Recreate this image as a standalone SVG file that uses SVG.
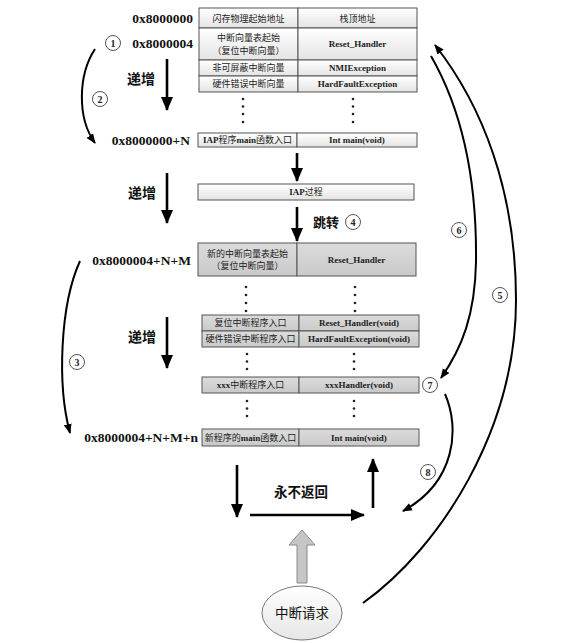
<svg xmlns="http://www.w3.org/2000/svg" width="573" height="643" viewBox="0 0 573 643">
<defs>
<linearGradient id="gLight" x1="0" y1="0" x2="0" y2="1"><stop offset="0" stop-color="#ffffff"/><stop offset="1" stop-color="#e4e4e4"/></linearGradient>
<linearGradient id="gGray" x1="0" y1="0" x2="0" y2="1"><stop offset="0" stop-color="#dcdcdc"/><stop offset="1" stop-color="#c9c9c9"/></linearGradient>
<linearGradient id="gEll" x1="0" y1="0" x2="0" y2="1"><stop offset="0" stop-color="#ffffff"/><stop offset="1" stop-color="#e6e6e6"/></linearGradient>
<marker id="ah" markerUnits="userSpaceOnUse" markerWidth="14" markerHeight="14" viewBox="0 0 14 12" refX="13" refY="6" orient="auto"><path d="M0,0 L14,6 L0,12 Z" fill="#000"/></marker>
<marker id="ahs" markerUnits="userSpaceOnUse" markerWidth="10" markerHeight="10" viewBox="0 0 10 8" refX="9" refY="4" orient="auto"><path d="M0,0 L10,4 L0,8 Z" fill="#000"/></marker>
</defs>
<style>
.cell{stroke:#555;stroke-width:1}
.lt{fill:url(#gLight)}
.gr{fill:url(#gGray)}
.cn{font-family:"Noto Sans CJK SC","Noto Sans",sans-serif;font-size:9px;fill:#222;text-anchor:middle}
.en{font-family:"Liberation Serif",serif;font-weight:bold;font-size:9px;fill:#222;text-anchor:middle}
.addr{font-family:"Liberation Serif",serif;font-weight:bold;font-size:13.5px;fill:#111;text-anchor:end}
.big{font-family:"Noto Sans CJK SC",sans-serif;font-weight:bold;font-size:14px;fill:#111}
.num{fill:#fff;stroke:#555;stroke-width:1}
.nt{font-family:"Liberation Serif",serif;font-weight:bold;font-size:10px;fill:#222;text-anchor:middle}
.dot{fill:#222}
.thick{stroke:#000;stroke-width:2.6;fill:none;marker-end:url(#ah)}
.curve{stroke:#000;stroke-width:2;fill:none;marker-end:url(#ahs)}
</style>
<rect width="573" height="643" fill="#fff"/>

<g id="addresses">
<text class="addr" x="193" y="23">0x8000000</text>
<text class="addr" x="193" y="48">0x8000004</text>
<text class="addr" x="190" y="145">0x8000000+N</text>
<text class="addr" x="191" y="265">0x8000004+N+M</text>
<text class="addr" x="198" y="442">0x8000004+N+M+n</text>
</g>

<g id="row-flash">
<rect class="cell lt" x="199" y="8" width="99" height="20"/>
<rect class="cell lt" x="298" y="8" width="119" height="20"/>
<text class="cn" x="248.5" y="21.5">闪存物理起始地址</text>
<text class="cn" x="357.5" y="21.5">栈顶地址</text>
</g>
<g id="row-reset">
<rect class="cell lt" x="199" y="28" width="99" height="32"/>
<rect class="cell lt" x="298" y="28" width="119" height="32"/>
<text class="cn" x="248.5" y="41">中断向量表起始</text>
<text class="cn" x="248.5" y="53.5">（复位中断向量）</text>
<text class="en" x="357.5" y="47">Reset_Handler</text>
</g>
<g id="row-nmi">
<rect class="cell lt" x="199" y="60" width="99" height="16"/>
<rect class="cell lt" x="298" y="60" width="119" height="16"/>
<text class="cn" x="248.5" y="71.3">非可屏蔽中断向量</text>
<text class="en" x="357.5" y="71.3">NMIException</text>
</g>
<g id="row-hardfault">
<rect class="cell lt" x="199" y="76" width="99" height="16"/>
<rect class="cell lt" x="298" y="76" width="119" height="16"/>
<text class="cn" x="248.5" y="87.3">硬件错误中断向量</text>
<text class="en" x="357.5" y="87.3">HardFaultException</text>
</g>
<g id="dots-1">
<circle class="dot" cx="243" cy="99" r="1.3"/><circle class="dot" cx="243" cy="106.5" r="1.3"/><circle class="dot" cx="243" cy="114" r="1.3"/><circle class="dot" cx="243" cy="122" r="1.3"/>
<circle class="dot" cx="353" cy="99" r="1.3"/><circle class="dot" cx="353" cy="106.5" r="1.3"/><circle class="dot" cx="353" cy="114" r="1.3"/><circle class="dot" cx="353" cy="122" r="1.3"/>
</g>
<g id="row-iap-main">
<rect class="cell lt" x="198" y="133" width="99" height="14"/>
<rect class="cell lt" x="297" y="133" width="120" height="14"/>
<text class="en" x="247.5" y="143.3">IAP<tspan style="font-family:'Noto Sans CJK SC',sans-serif;font-weight:normal">程序</tspan>main<tspan style="font-family:'Noto Sans CJK SC',sans-serif;font-weight:normal">函数入口</tspan></text>
<text class="en" x="357" y="143.3">Int main(void)</text>
</g>

<g id="iap-process">
<rect class="cell lt" x="198" y="184" width="216" height="16"/>
<text class="en" x="306" y="195.3">IAP<tspan style="font-family:'Noto Sans CJK SC',sans-serif;font-weight:normal">过程</tspan></text>
</g>

<g id="row-new-reset">
<rect class="cell gr" x="198" y="243" width="99" height="33"/>
<rect class="cell gr" x="297" y="243" width="119" height="33"/>
<text class="cn" x="247.5" y="256.5">新的中断向量表起始</text>
<text class="cn" x="247.5" y="269">（复位中断向量）</text>
<text class="en" x="356.5" y="262.5">Reset_Handler</text>
</g>
<g id="dots-2">
<circle class="dot" cx="246" cy="287" r="1.3"/><circle class="dot" cx="246" cy="295" r="1.3"/><circle class="dot" cx="246" cy="303" r="1.3"/><circle class="dot" cx="246" cy="311" r="1.3"/>
<circle class="dot" cx="355" cy="287" r="1.3"/><circle class="dot" cx="355" cy="295" r="1.3"/><circle class="dot" cx="355" cy="303" r="1.3"/><circle class="dot" cx="355" cy="311" r="1.3"/>
</g>
<g id="row-reset-entry">
<rect class="cell gr" x="202" y="315" width="97" height="16"/>
<rect class="cell gr" x="299" y="315" width="120" height="16"/>
<text class="cn" x="250.5" y="326.3">复位中断程序入口</text>
<text class="en" x="359" y="326.3">Reset_Handler(void)</text>
</g>
<g id="row-hardfault-entry">
<rect class="cell gr" x="202" y="331" width="97" height="16"/>
<rect class="cell gr" x="299" y="331" width="120" height="16"/>
<text class="cn" x="250.5" y="342.3">硬件错误中断程序入口</text>
<text class="en" x="359" y="342.3">HardFaultException(void)</text>
</g>
<g id="dots-3">
<circle class="dot" cx="247" cy="354" r="1.3"/><circle class="dot" cx="247" cy="361.5" r="1.3"/><circle class="dot" cx="247" cy="369" r="1.3"/>
<circle class="dot" cx="354" cy="354" r="1.3"/><circle class="dot" cx="354" cy="361.5" r="1.3"/><circle class="dot" cx="354" cy="369" r="1.3"/>
</g>
<g id="row-xxx">
<rect class="cell gr" x="202" y="377" width="97" height="16"/>
<rect class="cell gr" x="299" y="377" width="120" height="16"/>
<text class="en" x="250.5" y="388.3">xxx<tspan style="font-family:'Noto Sans CJK SC',sans-serif;font-weight:normal">中断程序入口</tspan></text>
<text class="en" x="359" y="388.3">xxxHandler(void)</text>
</g>
<g id="dots-4">
<circle class="dot" cx="247" cy="401" r="1.3"/><circle class="dot" cx="247" cy="408.5" r="1.3"/><circle class="dot" cx="247" cy="416" r="1.3"/>
<circle class="dot" cx="354" cy="401" r="1.3"/><circle class="dot" cx="354" cy="408.5" r="1.3"/><circle class="dot" cx="354" cy="416" r="1.3"/>
</g>
<g id="row-new-main">
<rect class="cell gr" x="202" y="429" width="97" height="17"/>
<rect class="cell gr" x="299" y="429" width="120" height="17"/>
<text class="cn" x="250.5" y="440.8">新程序的<tspan style="font-family:'Liberation Serif',serif;font-weight:bold">main</tspan>函数入口</text>
<text class="en" x="359" y="440.8">Int main(void)</text>
</g>

<g id="labels">
<text class="big" x="127" y="84">递增</text>
<text class="big" x="128" y="198">递增</text>
<text class="big" x="128" y="342">递增</text>
<text class="big" x="313" y="227" style="font-size:13px">跳转</text>
<text class="big" x="301" y="497" style="font-size:13.5px;text-anchor:middle">永不返回</text>
</g>

<g id="irq">
<ellipse cx="302" cy="613" rx="40" ry="27" fill="url(#gEll)" stroke="#777" stroke-width="1"/>
<text class="big" x="302" y="618" style="font-size:13.5px;font-weight:normal;text-anchor:middle">中断请求</text>
</g>
<g id="irq-arrow">
<polygon points="302,530 315,545 307,545 307,583 297,583 297,545 289,545" fill="#c6c6c6" stroke="#8a8a8a" stroke-width="1"/>
</g>

<g id="step-numbers">
<circle class="num" cx="113" cy="43" r="7.5"/><text class="nt" x="113" y="46.5">1</text>
<circle class="num" cx="100" cy="99" r="7.5"/><text class="nt" x="100" y="102.5">2</text>
<circle class="num" cx="77" cy="362" r="7.5"/><text class="nt" x="77" y="365.5">3</text>
<circle class="num" cx="353" cy="222" r="7.5"/><text class="nt" x="353" y="225.5">4</text>
<circle class="num" cx="500" cy="295" r="7.5"/><text class="nt" x="500" y="298.5">5</text>
<circle class="num" cx="459" cy="230" r="7.5"/><text class="nt" x="459" y="233.5">6</text>
<circle class="num" cx="430" cy="385" r="7.5"/><text class="nt" x="430" y="388.5">7</text>
<circle class="num" cx="428" cy="472" r="7.5"/><text class="nt" x="428" y="475.5">8</text>
</g>

<g id="connectors">
<line class="thick" x1="167" y1="59" x2="167" y2="110"/>
<line class="thick" x1="167" y1="173" x2="167" y2="223"/>
<line class="thick" x1="167" y1="317" x2="167" y2="368"/>
<line class="thick" x1="297" y1="153" x2="297" y2="181"/>
<line class="thick" x1="297" y1="207" x2="297" y2="241"/>
<line class="thick" x1="237" y1="465" x2="237" y2="517"/>
<line class="thick" x1="250" y1="515" x2="364" y2="515"/>
<line class="thick" x1="373" y1="508" x2="373" y2="459"/>
<path class="curve" d="M95,49 C78,75 77,118 95,143"/>
<path class="curve" d="M80,261 C60,305 57,385 70,433"/>
<path class="curve" d="M431,56 C462,110 477,180 476,262 C475,315 462,348 441,378"/>
<path class="curve" d="M445,394 C460,428 456,482 403,511"/>
<path class="curve" d="M363,603 C440,548 516,430 516,300 C516,190 482,105 435,45"/>
</g>
</svg>
